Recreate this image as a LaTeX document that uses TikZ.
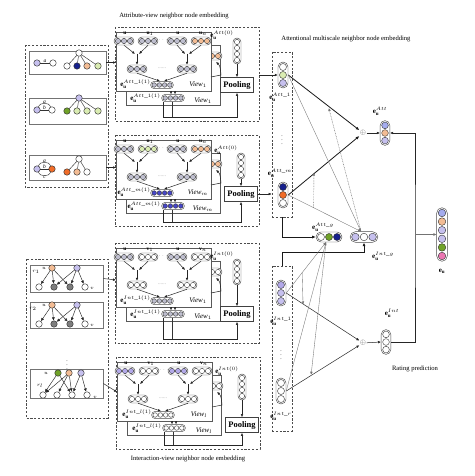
\documentclass[tikz,border=0pt]{standalone}
\usepackage{fontspec}
\setmainfont{Liberation Serif}
\usetikzlibrary{arrows.meta,calc}
\definecolor{lav}{RGB}{198,192,238}
\definecolor{blav}{RGB}{165,172,238}
\definecolor{peach}{RGB}{243,188,148}
\definecolor{lgreen}{RGB}{218,236,178}
\definecolor{dgreen}{RGB}{112,162,40}
\definecolor{navy}{RGB}{22,32,140}
\definecolor{orng}{RGB}{240,108,40}
\definecolor{pinkc}{RGB}{236,118,178}
\definecolor{gnode}{RGB}{125,125,125}
\definecolor{greyc}{RGB}{190,190,206}
\definecolor{purpc}{RGB}{178,168,232}
\definecolor{bluec}{RGB}{70,70,200}
\tikzset{
 cell/.style={circle,draw=black!80,line width=0.4pt,inner sep=0pt},
 panel/.style={draw=black!65,fill=white,line width=0.7pt},
 dashbox/.style={draw=black!70,line width=0.55pt,dash pattern=on 2.2pt off 1.6pt},
 arr/.style={draw=black!85,line width=0.5pt,-{Latex[length=3pt,width=2.6pt]}},
 marr/.style={draw=black!90,line width=0.8pt,-{Latex[length=3.6pt,width=3pt]}},
 tarr/.style={draw=black!55,line width=0.35pt,-{Latex[length=3pt,width=2.6pt]}},
 darr/.style={draw=black!55,line width=0.45pt,dash pattern=on 0.8pt off 0.8pt,-{Latex[length=3pt,width=2.6pt]}},
 thk/.style={draw=black!90,line width=1pt,-{Latex[length=3.6pt,width=3pt]}},
 lin/.style={draw=black!80,line width=0.6pt},
 elab/.style={inner sep=0.3pt,font=\fontsize{7}{8}\selectfont},
 vlab/.style={inner sep=0pt,font=\fontsize{7}{8}\selectfont},
 tlab/.style={inner sep=0pt,font=\fontsize{5.5}{6}\selectfont},
 ttl/.style={inner sep=0pt,font=\fontsize{6.6}{8}\selectfont},
 pool/.style={draw=black!75,line width=0.7pt,fill=white,inner sep=0pt,minimum width=33pt,minimum height=15pt,font=\bfseries\fontsize{8.5}{10}\selectfont},
 gbox/.style={draw=black!55,line width=0.8pt,inner sep=0pt},
 gn/.style={circle,draw=black!80,line width=0.45pt,inner sep=0pt,minimum size=6.5pt},
 gl/.style={inner sep=0pt,font=\itshape\fontsize{5.5}{6}\selectfont},
 ge/.style={draw=black!80,line width=0.45pt},
 gea/.style={draw=black!85,line width=0.45pt,-{Latex[length=3.2pt,width=3pt]}},
}
% horizontal capsule: name, x, y, n, r, colours
\newcommand{\capsH}[6]{%
 \node[draw=black!70,line width=0.45pt,fill=white,inner sep=0pt,minimum width={2*#4*#5pt+2pt},minimum height={2*#5pt+2pt},rounded corners={#5pt+1pt}] (#1) at (#2,#3) {};
 \foreach \cc [count=\ii] in {#6} {\node[cell,fill=\cc,minimum size={#5*1.76pt}] at ({#2+(\ii-(#4+1)/2)*2*#5},#3) {};}
}
% vertical capsule
\newcommand{\capsV}[6]{%
 \node[draw=black!70,line width=0.45pt,fill=white,inner sep=0pt,minimum height={2*#4*#5pt+2pt},minimum width={2*#5pt+2pt},rounded corners={#5pt+1pt}] (#1) at (#2,#3) {};
 \foreach \cc [count=\ii] in {#6} {\node[cell,fill=\cc,minimum size={#5*1.76pt}] at (#2,{#3+(\ii-(#4+1)/2)*2*#5}) {};}
}
\newcommand{\viewbox}[3]{%
\begin{scope}[shift={(#1,#2)}]
 \draw[dashbox] (0,0) rectangle (144,#3);
 \coordinate (\bn o) at (144,48);
 \draw[panel] (11,18) rectangle (105,78);
 \capsH{\bn v}{97}{29}{3}{3}{\gV,\gV,\gV}
 \capsH{\bn k}{58}{71}{4}{2.6}{\gK,\gK,\gK,\gK}
 \node[elab,anchor=east] at (46,71) {$\mathbf{e}_{\mathbf{u}}^{\bl}$};
 \node[vlab] at (88,74) {\textit{View}$_{\vs}$};
 \draw[panel] (1,5) rectangle (96,64);
 \capsH{\bn t1}{9}{14}{3}{3}{\gA,\gA,\gA}
 \capsH{\bn t2}{33}{14}{3}{3}{\gB,\gB,\gB}
 \capsH{\bn t3}{62}{14}{3}{3}{\gC,\gC,\gC}
 \capsH{\bn t4}{86}{14}{3}{3}{\gD,\gD,\gD}
 \node[tlab] at (10,6.5) {\tA};
 \node[tlab] at (35,6.5) {\tB};
 \node[tlab] at (63,6.5) {\tC};
 \node[tlab] at (88,6.5) {\tD};
 \node[tlab,text=black!60] at (48,13) {$\cdots$};
 \capsH{\bn m1}{22}{42}{3}{3}{\gM,\gM,\gM}
 \capsH{\bn m2}{72}{42}{3}{3}{\gM,\gM,\gM}
 \node[tlab,text=black!35] at (47,41) {......};
 \capsH{\bn f}{47}{58}{4}{2.6}{\gF,\gF,\gF,\gF}
 \node[elab,anchor=east] at (36,57) {$\mathbf{e}_{\mathbf{u}}^{\fl}$};
 \node[vlab] at (83,58) {\textit{View}$_{\vs}$};
 \draw[arr] (\bn t1.south) -- (20,27);
 \draw[arr] (\bn t2.south) -- (24,27);
 \draw[arr] (22,27) -- (\bn m1.north);
 \draw[arr] (\bn t3.south) -- (70,27);
 \draw[arr] (\bn t4.south) -- (74,27);
 \draw[arr] (72,27) -- (\bn m2.north);
 \draw[arr] (\bn m1.south) -- ([xshift=-2pt]\bn f.north);
 \draw[arr] (\bn m2.south) -- ([xshift=2pt]\bn f.north);
 \draw[arr] (56,64) -- (56,67.4);
 \draw[arr] (60,64) -- (60,67.4);
 \draw[arr] (96,50) -- (106,48) to[out=95,in=-40] (101,35);
 \capsV{\bn c}{\pX}{\cT+9}{4}{3}{white,white,white,white}
 \node[elab,anchor=south east] at ({\pX-3},{\cT-2}) {$\mathbf{e}_{\mathbf{u}}^{\cl}$};
 \node[pool] (\bn p) at (\pX,\pY) {Pooling};
 \draw[arr] (\bn c.south) -- (\bn p.north);
 \draw[arr] (48.5,74.6) -- (48.5,{#3-4}) -| (\bn p.south);
 \draw[lin] (57,74.6) -- (57,{#3-4});
\end{scope}}
\begin{document}
\begin{tikzpicture}[x=1pt,y=-1pt]
\fill[white] (0,0) rectangle (474,476);
\useasboundingbox (0,0) rectangle (474,476);

% titles
\node[ttl] (tatt) at (174,16) {Attribute-view neighbor node embedding};
\node[ttl] (tmul) at (346,39) {Attentional multiscale neighbor node embedding};
\node[ttl] (tint) at (188,459) {Interaction-view neighbor node embedding};
\node[ttl] (trat) at (415,369) {Rating prediction};

% ---------- view boxes ----------
\def\bn{bxa}\def\gA{greyc}\def\gB{greyc}\def\gC{greyc}\def\gD{peach}\def\gM{greyc}\def\gF{greyc}\def\gK{greyc}\def\gV{peach}
\def\tA{$\mathbf{u}$}\def\tB{$\mathbf{u}_1$}\def\tC{$\mathbf{u}$}\def\tD{$\mathbf{u}_n$}
\def\fl{Att\_1(1)}\def\bl{Att\_1(1)}\def\vs{1}\def\cl{Att(0)}\def\pX{122}\def\pY{58}\def\cT{15}
\viewbox{115}{27}{94}

\def\bn{bxb}\def\gA{greyc}\def\gB{lgreen}\def\gC{greyc}\def\gD{peach}\def\gM{greyc}\def\gF{bluec}\def\gK{bluec}\def\gV{peach}
\def\fl{Att\_m(1)}\def\bl{Att\_m(1)}\def\vs{m}\def\cl{Att(0)}\def\pX{126}\def\pY{59}\def\cT{22}
\viewbox{115}{135}{91}

\def\bn{bxc}\def\gA{greyc}\def\gB{white}\def\gC{greyc}\def\gD{white}\def\gM{white}\def\gF{greyc}\def\gK{greyc}\def\gV{white}
\def\tA{$\mathbf{u}$}\def\tB{$\mathbf{v}_1$}\def\tC{$\mathbf{u}$}\def\tD{$\mathbf{v}_n$}
\def\fl{Int\_1(1)}\def\bl{Int\_1(1)}\def\vs{1}\def\cl{Int(0)}\def\pX{122}\def\pY{71}\def\cT{20}
\viewbox{115}{243}{100}

\def\bn{bxd}\def\gA{purpc}\def\gB{white}\def\gC{purpc}\def\gD{white}\def\gM{white}\def\gF{white}\def\gK{white}\def\gV{white}
\def\fl{Int\_l(1)}\def\bl{Int\_l(1)}\def\vs{l}\def\cl{Int(0)}\def\pX{126}\def\pY{68}\def\cT{21}
\viewbox{116}{357}{92}

% ---------- left graphs ----------
\draw[dashbox] (25,45) rectangle (108,187);
\draw[dashbox] (26,259) rectangle (108,418);
\node[gbox,minimum width=77pt,minimum height=23pt] (lg1) at (67.5,62.5) {};
\node[gbox,minimum width=77pt,minimum height=26pt] (lg2) at (67.5,111) {};
\node[gbox,minimum width=77pt,minimum height=25pt] (lg3) at (67.5,167.5) {};
\node[gbox,minimum width=73pt,minimum height=27pt] (lg4) at (66.5,278.5) {};
\node[gbox,minimum width=73pt,minimum height=26pt] (lg5) at (66.5,315) {};
\node[gbox,minimum width=73pt,minimum height=29pt] (lg6) at (66.5,383.5) {};
\node[tlab] (ldots) at (67,362) {$\vdots$};

\draw[arr] (lg1.east) -- (116,62.5);
\draw[arr] (lg3.east) -- (116,167.5);
\draw[arr] (lg4.east) -- (116,280);
\draw[arr] (lg6.east) -- (117,392);

% graph 1
\node[gn,fill=lav] (g1a) at (37,63) {};
\node[gn,fill=white] (g1b) at (53,63) {};
\draw[ge] (g1a) -- node[gl,above=0.3pt]{a} (g1b);
\node[gn,fill=white] (g1r) at (79,53) {};
\foreach \xx/\cc [count=\k] in {67/white,77/navy,87/peach,98/lgreen}
  {\node[gn,fill=\cc] (g1c\k) at (\xx,66) {}; \draw[ge] (g1r) -- (g1c\k);}
% graph 2
\node[gn,fill=lav] (g2a) at (37,110) {};
\node[gn,fill=white] (g2b) at (52,110) {};
\draw[ge] (g2a) to[bend left=70] node[gl,above=-0.3pt]{a} (g2b);
\draw[ge] (g2a) -- node[gl,above=-0.2pt]{b} (g2b);
\node[gn,fill=lav] (g2r) at (79,98) {};
\foreach \xx/\cc [count=\k] in {67/dgreen,77/lgreen,87/lgreen,98/lgreen}
  {\node[gn,fill=\cc] (g2c\k) at (\xx,111) {}; \draw[ge] (g2r) -- (g2c\k);}
% graph 3
\node[gn,fill=lav] (g3a) at (37,169) {};
\node[gn,fill=orng] (g3b) at (52,169) {};
\draw[ge] (g3a) to[bend left=70] node[gl,above=-0.3pt]{a} (g3b);
\draw[ge] (g3a) -- node[gl,above=-0.2pt]{b} (g3b);
\draw[ge] (g3a) to[bend right=70] node[gl,below=-0.3pt]{c} (g3b);
\node[gn,fill=white] (g3r) at (79,159) {};
\foreach \xx/\cc [count=\k] in {67/orng,77/peach,87/white}
  {\node[gn,fill=\cc] (g3c\k) at (\xx,172) {}; \draw[ge] (g3r) -- (g3c\k);}
% graph 4
\node[gl] (r1) at (36,272) {$r_1$};
\node[gl] (u4) at (44,268) {$u$};
\node[gn,fill=peach] (g4p) at (52,268) {};
\node[gn,fill=lav] (g4q) at (77,268) {};
\foreach \xx/\cc [count=\k] in {39/white,54/gnode,70/gnode,85/white}
  {\node[gn,fill=\cc] (g4b\k) at (\xx,287) {};}
\node[gl] (v4) at (92,288) {$v$};
\foreach \k in {1,2,3} {\draw[gea] (g4p) -- (g4b\k);}
\foreach \k in {2,3,4} {\draw[gea] (g4q) -- (g4b\k);}
% graph 5
\node[gl] (r2) at (33,309) {$r_2$};
\node[gl] (u5) at (44,305) {$u$};
\node[gn,fill=peach] (g5p) at (52,305) {};
\node[gn,fill=lav] (g5q) at (77,305) {};
\foreach \xx/\cc [count=\k] in {39/white,54/gnode,70/gnode,85/white}
  {\node[gn,fill=\cc] (g5b\k) at (\xx,324) {};}
\node[gl] (v5) at (92,325) {$v$};
\foreach \k in {1,2,3} {\draw[gea] (g5p) -- (g5b\k);}
\foreach \k in {2,3,4} {\draw[gea] (g5q) -- (g5b\k);}
% graph 6
\node[gl] (u6) at (46,373) {$u$};
\node[gl] (rl) at (40,386) {$r_l$};
\node[gn,fill=dgreen] (g6p) at (58,373) {};
\node[gn,fill=peach] (g6q) at (69,373) {};
\node[gn,fill=lav] (g6s) at (81,373) {};
\foreach \xx [count=\k] in {43,57,72,87}
  {\node[gn,fill=white] (g6b\k) at (\xx,395) {};}
\node[gl] (v6) at (95,397) {$v$};
\foreach \k in {1,3} {\draw[gea] (g6p) -- (g6b\k);}
\foreach \k in {1,2,3} {\draw[gea] (g6q) -- (g6b\k);}
\foreach \k in {3,4} {\draw[gea] (g6s) -- (g6b\k);}

% ---------- multiscale columns ----------
\node[dashbox,inner sep=0pt,minimum width=20pt,minimum height=165pt] (attCol) at (282,134.5) {};
\node[dashbox,inner sep=0pt,minimum width=20pt,minimum height=165pt] (intCol) at (282,348.5) {};
\capsV{attA}{283}{75}{3}{4}{white,lgreen,lav}
\capsV{attM}{283}{195}{3}{4}{navy,orng,white}
\capsV{intA}{281}{293}{3}{4}{purpc,lav,lav}
\capsV{intR}{281}{391}{3}{4}{white,white,white}
\node[elab] (lA1) at (280,97) {$\mathbf{e}_{\mathbf{u}}^{Att\_1}$};
\node[tlab] (dA) at (282,137) {$\vdots$};
\node[elab] (lAm) at (280,173) {$\mathbf{e}_{\mathbf{u}}^{Att\_m}$};
\node[elab] (lI1) at (281,321) {$\mathbf{e}_{\mathbf{u}}^{Int\_1}$};
\node[tlab] (dI) at (281,352) {$\vdots$};
\node[elab] (lIr) at (281,416) {$\mathbf{e}_{\mathbf{u}}^{Int\_r}$};

\draw[arr] (bxao) -- (attA.west);
\draw[arr] (bxbp.east) -- (attCol.west |- bxbp.east);

\capsH{attG}{329}{237}{3}{4}{white,dgreen,navy}
\capsH{intG}{364}{237}{3}{4.3}{lav,white,lav}
\node[elab] (lAg) at (323,227) {$\mathbf{e}_{\mathbf{u}}^{Att\_g}$};
\node[elab] (lIg) at (383,256) {$\mathbf{e}_{\mathbf{u}}^{Int\_g}$};

\draw[thk] (attCol.south) |- (attG.west);
\draw[thk] (intCol.north) -- ++(0,-13) -| (intG.south);

\node[inner sep=0.3pt,text=black!60,font=\fontsize{7}{7}\selectfont] (opA) at (363,133) {$\oplus$};
\node[inner sep=0.3pt,text=black!60,font=\fontsize{7}{7}\selectfont] (opI) at (363,343) {$\oplus$};

\coordinate (intGq) at ([xshift=-3pt]intG.north);
\coordinate (attGq) at ([xshift=-3pt]attG.south);

\draw[marr] (attA.east) -- (opA);
\draw[marr] (attM.east) -- (opA);
\draw[tarr] (attA.east) -- (intGq);
\draw[tarr] (attM.east) -- (intGq);
\draw[darr] (intGq) -- ($(attA.east)!0.57!(opA.west)$);
\draw[darr] ($(attM.east)!0.35!(intGq)$) -- ($(attM.east)!0.36!(opA.west)$);

\draw[arr] (intA.east) -- (opI);
\draw[arr] (intR.east) -- (opI);
\draw[tarr] (intA.east) -- (attGq);
\draw[tarr] (intR.east) -- (attGq);
\draw[tarr] (attGq) -- ($(intR.east)!0.34!(opI.west)$);
\draw[tarr] ($(intA.east)!0.4!(attGq)$) -- ($(intA.east)!0.23!(opI.west)$);

% ---------- outputs ----------
\capsV{eAtt}{385}{133}{3}{3.8}{blav,peach,lav}
\capsV{eInt}{386}{342}{3}{3.8}{white,white,white}
\capsV{eU}{442}{234.5}{6}{4.3}{blav,peach,lav,lav,dgreen,pinkc}
\node[elab] (lAtt) at (380,111) {$\mathbf{e}_{\mathbf{u}}^{Att}$};
\node[elab] (lInt) at (392,313) {$\mathbf{e}_{\mathbf{u}}^{Int}$};
\node[elab] (lU) at (442,271) {$\mathbf{e}_{\mathbf{u}}$};

\draw[arr] (opA) -- (eAtt.west);
\draw[arr] (opI) -- (eInt.west);
\coordinate (rp) at (415,234.5);
\draw[arr] (eInt.east) -| (rp) |- (eAtt.east);
\draw[tarr] (rp) -- (eU.west);
\end{tikzpicture}
\end{document}
